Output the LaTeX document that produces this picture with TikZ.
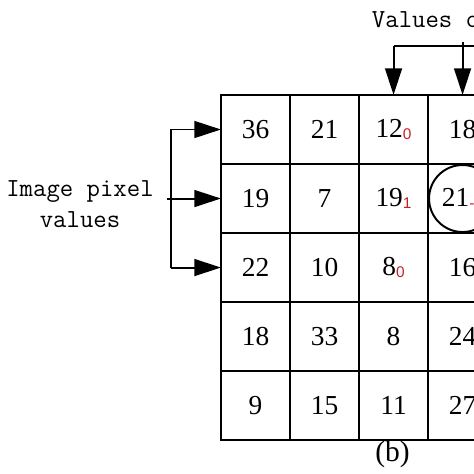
\documentclass[tikz,border=0pt]{standalone}
\usepackage{fontspec}
\setmainfont{Liberation Serif}
\newfontfamily\subfont{Liberation Sans}
\usetikzlibrary{arrows.meta,positioning}
\definecolor{subred}{RGB}{200,30,40}
\newcommand{\redsub}[1]{\raisebox{-1pt}{\textcolor{subred}{\subfont\fontsize{11}{12}\selectfont #1}}}

\begin{document}
\begin{tikzpicture}[
  x=0.025cm, y=-0.025cm,
  node distance=0pt,
  cell/.style={draw, line width=1.4pt, minimum size=1.725cm, inner sep=0pt, outer sep=0pt, font=\fontsize{19.5}{21}\selectfont},
  wire/.style={line width=1.4pt},
  arr/.style={line width=1.4pt, -{Triangle[length=19pt, width=12pt]}},
  lbl/.style={font=\ttfamily\fontsize{18.5}{22}\selectfont, align=center},
  >=Triangle
]
\useasboundingbox (0,0) rectangle (474,474);
\clip (0,0) rectangle (474,474);
% pixel grid
\node[cell] (c11) at (255.5,129.5) {36};
\node[cell, right=of c11] (c12) {21};
\node[cell, right=of c12] (c13) {12\redsub{0}};
\node[cell, right=of c13] (c14) {18};
\node[cell, below=of c11] (c21) {19};
\node[cell, right=of c21] (c22) {7};
\node[cell, right=of c22] (c23) {19\redsub{1}};
\node[cell, right=of c23] (c24) {21\redsub{-1}};
\node[cell, below=of c21] (c31) {22};
\node[cell, right=of c31] (c32) {10};
\node[cell, right=of c32] (c33) {8\redsub{0}};
\node[cell, right=of c33] (c34) {16};
\node[cell, below=of c31] (c41) {18};
\node[cell, right=of c41] (c42) {33};
\node[cell, right=of c42] (c43) {8};
\node[cell, right=of c43] (c44) {24};
\node[cell, below=of c41] (c51) {9};
\node[cell, right=of c51] (c52) {15};
\node[cell, right=of c52] (c53) {11};
\node[cell, right=of c53] (c54) {27};
\node[draw, circle, line width=1.4pt, minimum size=1.675cm, inner sep=0pt] (ring) at (c24) {};
% labels
\node[lbl] (pix) at (80,204) {Image pixel\\values};
\node[lbl, anchor=base west] (vals) at (367,27) {Values o};
\node[font=\fontsize{21}{23}\selectfont, anchor=base] (cap) at (392.5,461) {(b)};
% arrows on the left
\coordinate (brk) at (171,0);
\draw[arr] (brk |- c31.west) |- (c11.west);
\draw[arr] (brk |- c31.west) -- (c31.west);
\draw[arr] ([xshift=-3pt]brk |- c21.west) -- (c21.west);
% arrows on top
\coordinate (bar) at (0,46);
\coordinate (barend) at (480,46);
\draw[wire] (c13.north |- bar) -- (barend);
\draw[arr] (c13.north |- bar) -- (c13.north);
\draw[arr] ([yshift=3pt]c14.north |- bar) -- (c14.north);
\end{tikzpicture}
\end{document}
